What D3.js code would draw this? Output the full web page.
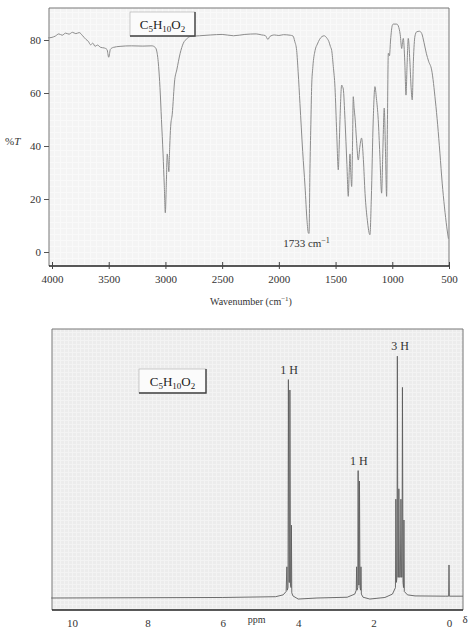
<!DOCTYPE html>
<html>
<head>
<meta charset="utf-8">
<script src="https://cdn.jsdelivr.net/npm/d3@7"></script>
<style>
  body { margin: 0; background: #fff; }
  svg { display: block; font-family: "Liberation Serif", "DejaVu Serif", serif; }
</style>
</head>
<body>
<svg id="chart" width="474" height="636"></svg>
<script>
// ---- data ----
const formula = [["C", false], ["5", true], ["H", false], ["10", true], ["O", false], ["2", true]];

// IR spectrum: [wavenumber cm-1, %T]
const irPoints = [
  [4035, 80.8], [4000, 81], [3970, 81.5], [3940, 82.3], [3910, 81.8], [3880, 82.6], [3850, 82.2],
  [3820, 82.9], [3790, 82.4], [3760, 82.8], [3730, 81.6], [3700, 80.2], [3680, 79.5], [3660, 78.2],
  [3640, 78.8], [3620, 77.6], [3600, 78.1], [3570, 77.2], [3540, 77.0], [3515, 76.4], [3500, 73.5],
  [3485, 76.5], [3460, 77.2], [3400, 77.6], [3300, 77.8], [3200, 77.7], [3120, 77.8], [3090, 77.2],
  [3075, 75.5], [3060, 70], [3048, 62], [3035, 50], [3021, 37], [3010, 25], [3001, 14.8], [2992, 26],
  [2984, 37], [2975, 33], [2970, 30.3], [2962, 40], [2954, 47.3], [2940, 52], [2918, 65], [2900, 68.7],
  [2870, 75], [2842, 78.8], [2810, 80.5], [2783, 81.3], [2700, 81.6], [2600, 81.9], [2500, 82.1],
  [2400, 81.6], [2300, 82.1], [2200, 82.3], [2150, 81.9], [2120, 81.7], [2096, 80.2], [2080, 81.3],
  [2040, 81.9], [2000, 81.7], [1960, 82], [1900, 81.8], [1875, 81.5], [1860, 79.5], [1843, 76],
  [1830, 68], [1814, 56], [1790, 38], [1769, 24.6], [1752, 12], [1740, 7.2], [1734, 7], [1726, 31],
  [1718, 48], [1711, 62], [1700, 70], [1681, 76], [1660, 78.5], [1640, 80.3], [1620, 81.3], [1600, 81.6],
  [1578, 80.8], [1560, 79.5], [1545, 77.5], [1534, 76], [1520, 70], [1505, 62], [1490, 45], [1476, 31],
  [1468, 40], [1461, 50], [1446, 63], [1440, 62.5], [1432, 61.5], [1417, 50], [1400, 33], [1388, 21],
  [1380, 30], [1373, 37], [1366, 30], [1358, 24.7], [1350, 42], [1344, 58.6], [1336, 54], [1329, 51],
  [1315, 42], [1300, 34.7], [1285, 40], [1271, 43], [1255, 35], [1240, 22], [1220, 12], [1197, 6.5],
  [1185, 20], [1168, 49.8], [1153, 62.4], [1140, 58], [1124, 50], [1110, 37], [1094, 22.2], [1085, 35],
  [1080, 43.5], [1071, 54.3], [1060, 38], [1050, 21], [1043, 48], [1035, 75], [1025, 74], [1015, 80],
  [1000, 85.5], [991, 86], [960, 86], [947, 85.3], [930, 82], [917, 76.8], [910, 79], [903, 80.6],
  [890, 72], [879, 59.2], [870, 70], [859, 80.6], [845, 72], [834, 62], [824, 57.4], [814, 72],
  [800, 81.5], [785, 83.1], [760, 83.3], [741, 82.5], [720, 79], [700, 75], [680, 72], [653, 68.7],
  [620, 57], [600, 48], [580, 37.3], [560, 26], [540, 17], [520, 9.5], [505, 5]
];
const irXTicks = [4000, 3500, 3000, 2500, 2000, 1500, 1000, 500];
const irYTicks = [0, 20, 40, 60, 80];
const irPeakNote = { wn: 1733, t: 2 };

// 1H NMR spectrum: [ppm, relative intensity]
const nmrPoints = [
  [10.55, 0], [6, 0.2], [4.6, 0.5], [4.4, 1.2], [4.32, 2.5], [4.30, 12], [4.29, 3], [4.27, 4], [4.26, 84],
  [4.245, 6], [4.23, 6], [4.22, 80], [4.205, 5], [4.19, 4], [4.18, 28], [4.17, 2], [4.14, 0.8], [4.0, -0.4],
  [3.5, 0], [2.7, 0.3], [2.5, 1.5], [2.46, 3], [2.45, 12], [2.44, 3], [2.42, 4], [2.41, 49], [2.395, 5],
  [2.385, 5], [2.375, 45], [2.36, 4], [2.345, 3], [2.335, 12], [2.325, 1.5], [2.28, 0.3], [2.1, -0.4],
  [1.7, 0.2], [1.5, 1.5], [1.42, 4], [1.41, 38], [1.395, 6], [1.38, 8], [1.37, 93], [1.355, 8], [1.34, 8],
  [1.33, 42], [1.315, 8], [1.29, 8], [1.275, 38], [1.26, 8], [1.245, 8], [1.235, 81], [1.22, 6], [1.205, 4],
  [1.195, 30], [1.185, 2.5], [1.1, 1.2], [0.9, 0.8], [0.1, 0.7], [0.01, 0.7], [0, 12.7], [-0.01, 0.7], [-0.37, 0.7]
];
const nmrTicks = [10, 8, 6, 4, 2, 0];
const nmrIntegrals = [
  { ppm: 4.24, level: 86, text: "1 H" },
  { ppm: 2.39, level: 51, text: "1 H" },
  { ppm: 1.30, level: 95.5, text: "3 H" }
];

// ---- drawing ----
const svg = d3.select("#chart");
const defs = svg.append("defs");

const irPat = defs.append("pattern").attr("id", "irGrid").attr("patternUnits", "userSpaceOnUse")
    .attr("width", 6).attr("height", 6);
irPat.append("rect").attr("width", 6).attr("height", 6).attr("fill", "#f4f4f4");
irPat.append("path").attr("d", "M0 0.5H6M0.5 0V6").attr("stroke", "#f9f9f9").attr("stroke-width", 1);

const nmrPat = defs.append("pattern").attr("id", "nmrGrid").attr("patternUnits", "userSpaceOnUse")
    .attr("width", 4).attr("height", 4);
nmrPat.append("rect").attr("width", 4).attr("height", 4).attr("fill", "#ececec");
nmrPat.append("path").attr("d", "M0 0.5H4M0.5 0V4").attr("stroke", "#f3f3f3").attr("stroke-width", 1);

function drawFormula(g, cx, y) {
  const t = g.append("text").attr("x", cx).attr("y", y).attr("text-anchor", "middle")
      .attr("font-size", 13).attr("fill", "#222");
  formula.forEach(([s, sub]) => {
    const ts = t.append("tspan").text(s);
    if (sub) ts.attr("font-size", 9).attr("dy", 3);
    else ts.attr("dy", t.selectAll("tspan").size() > 1 ? -3 : 0);
  });
}

function drawBox(x0, y0, w, h) {
  const g = svg.append("g");
  g.append("rect").attr("x", x0).attr("y", y0).attr("width", w).attr("height", h)
      .attr("fill", "#fbfbfb").attr("stroke", "#aaa").attr("stroke-width", 0.6);
  g.append("path").attr("d", `M${x0 + w},${y0} V${y0 + h} H${x0}`)
      .attr("fill", "none").attr("stroke", "#444").attr("stroke-width", 1.4);
  drawFormula(g, x0 + w / 2, y0 + h - 7);
}

// IR panel
const irX = d3.scaleLinear().domain([4000, 500]).range([52, 449]);
const irY = d3.scaleLinear().domain([0, 80]).range([252, 40]);

svg.append("rect").attr("x", 49).attr("y", 8).attr("width", 400).attr("height", 258)
    .attr("fill", "url(#irGrid)");
svg.append("path").attr("d", "M49,266 V8 H449 V266").attr("fill", "none")
    .attr("stroke", "#777").attr("stroke-width", 1);

svg.append("path").datum(irPoints)
    .attr("d", d3.line().x(d => irX(d[0])).y(d => irY(d[1])).curve(d3.curveMonotoneX))
    .attr("fill", "none").attr("stroke", "#8c8c8c").attr("stroke-width", 1);

const irXAxis = svg.append("g").attr("transform", "translate(0,266)")
    .call(d3.axisBottom(irX).tickValues(irXTicks).tickFormat(d3.format("d"))
      .tickSizeInner(-4).tickSizeOuter(0).tickPadding(9));
irXAxis.select(".domain").attr("stroke", "#222").attr("stroke-width", 1.6).attr("d", "M49,0H449");
irXAxis.selectAll(".tick line").attr("stroke", "#444").attr("y1", 3);
irXAxis.selectAll("text").attr("font-size", 11).attr("fill", "#333").attr("font-family", "Liberation Serif");

const irYAxis = svg.append("g").attr("transform", "translate(49,0)")
    .call(d3.axisLeft(irY).tickValues(irYTicks).tickSize(5).tickPadding(3).tickFormat(d3.format("d")));
irYAxis.select(".domain").remove();
irYAxis.selectAll(".tick line").attr("stroke", "#555");
irYAxis.selectAll("text").attr("font-size", 11).attr("fill", "#333").attr("font-family", "Liberation Serif");

const pT = svg.append("text").attr("x", 5).attr("y", 145).attr("font-size", 11).attr("fill", "#333");
pT.append("tspan").text("%");
pT.append("tspan").text("T").attr("font-style", "italic");

const wl = svg.append("text").attr("x", 251).attr("y", 305).attr("text-anchor", "middle")
    .attr("font-size", 10).attr("fill", "#333");
wl.append("tspan").text("Wavenumber (cm");
wl.append("tspan").text("−1").attr("font-size", 7).attr("dy", -4);
wl.append("tspan").text(")").attr("dy", 4);

const note = svg.append("text").attr("x", irX(irPeakNote.wn) - 26).attr("y", irY(irPeakNote.t))
    .attr("font-size", 11).attr("fill", "#333");
note.append("tspan").text(irPeakNote.wn + " cm");
note.append("tspan").text("−1").attr("font-size", 8).attr("dy", -4);

drawBox(130, 12, 65, 24);

// NMR panel
const nmrX = d3.scaleLinear().domain([10, 0]).range([72, 449]);
const nmrY = d3.scaleLinear().domain([0, 100]).range([598, 338]);

svg.append("rect").attr("x", 52).attr("y", 329).attr("width", 411).attr("height", 281)
    .attr("fill", "url(#nmrGrid)");
svg.append("path").attr("d", "M52,610 V329 H463 V610").attr("fill", "none")
    .attr("stroke", "#777").attr("stroke-width", 1);
svg.append("line").attr("x1", 52).attr("x2", 463).attr("y1", 610).attr("y2", 610)
    .attr("stroke", "#222").attr("stroke-width", 1.6);

svg.append("path").datum(nmrPoints)
    .attr("d", d3.line().x(d => nmrX(d[0])).y(d => nmrY(d[1])))
    .attr("fill", "none").attr("stroke", "#5e5e5e").attr("stroke-width", 0.9);

const nmrAxis = svg.append("g").attr("transform", "translate(0,610)")
    .call(d3.axisBottom(nmrX).tickValues(nmrTicks).tickSize(0).tickPadding(9));
nmrAxis.select(".domain").remove();
nmrAxis.selectAll("text").attr("font-size", 11).attr("fill", "#333").attr("font-family", "Liberation Serif");

svg.append("text").attr("x", nmrX(5.1)).attr("y", 623).attr("text-anchor", "middle")
    .attr("font-size", 10).attr("fill", "#333").text("ppm");
svg.append("text").attr("x", 465).attr("y", 623).attr("text-anchor", "middle")
    .attr("font-size", 11).attr("fill", "#333").text("δ");

svg.append("g").selectAll("text").data(nmrIntegrals).join("text")
    .attr("x", d => nmrX(d.ppm)).attr("y", d => nmrY(d.level))
    .attr("text-anchor", "middle").attr("font-size", 12).attr("fill", "#333")
    .text(d => d.text);

drawBox(139, 369, 67, 24);
</script>
</body>
</html>
